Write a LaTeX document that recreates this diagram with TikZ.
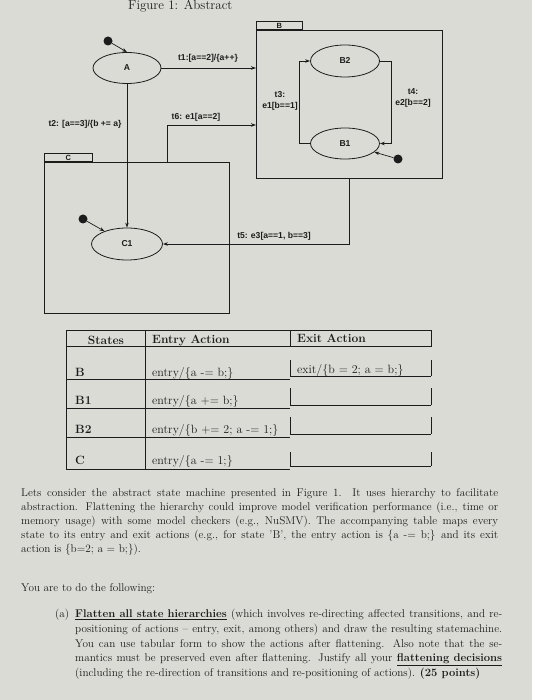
\documentclass[tikz,border=0pt]{standalone}
\usepackage{fontspec}
\newfontfamily\diagfont{Liberation Sans}
\usetikzlibrary{shapes.geometric,arrows.meta}
\definecolor{bg}{RGB}{219,219,214}
\definecolor{ink}{RGB}{28,28,28}
\tikzset{
  state/.style={ellipse,draw=ink,line width=0.8pt,inner sep=0pt,font=\diagfont\bfseries\fontsize{8.6}{10}\selectfont},
  initdot/.style={circle,fill=ink,minimum size=9pt,inner sep=0pt},
  superbox/.style={draw=ink,line width=0.9pt,anchor=north west,inner sep=0pt},
  tabbox/.style={draw=ink,line width=0.9pt,anchor=south west,inner sep=0pt,minimum height=8pt,font=\diagfont\bfseries\fontsize{7.5}{7.5}\selectfont},
  conn/.style={draw=ink,line width=0.7pt,-{Stealth[length=5pt,width=3.5pt]}},
  tlabel/.style={font=\diagfont\bfseries\fontsize{8.6}{11}\selectfont,inner sep=0pt,align=center},
  tline/.style={draw=ink,line width=0.8pt},
  tabtext/.style={anchor=base west,inner sep=0pt,font=\fontsize{12}{14}\selectfont},
  bodytext/.style={anchor=north west,inner sep=0pt,align=justify,font=\fontsize{11.2}{14}\selectfont}
}
\begin{document}
\begin{tikzpicture}[x=1pt,y=-1pt,every node/.append style={text=ink}]
\fill[bg] (0,0) rectangle (532,700);
\useasboundingbox (0,0) rectangle (532,700);
\clip (0,0) rectangle (532,700);

% caption (partly cut at top in the reference)
\node[anchor=base west,inner sep=0pt,font=\fontsize{13}{13}\selectfont] (cap) at (128,10) {Figure 1: Abstract};

% superstates
\node[superbox,minimum width=186pt,minimum height=148pt] (Bbox) at (256,30) {};
\node[tabbox,minimum width=46pt] (Btab) at (Bbox.north west) {B};
\node[superbox,minimum width=185pt,minimum height=151pt] (Cbox) at (44,162) {};
\node[tabbox,minimum width=48pt] (Ctab) at (Cbox.north west) {C};

% states
\node[state,minimum width=68pt,minimum height=31pt] (A) at (127,68) {A};
\node[state,minimum width=69pt,minimum height=32pt] (B2) at (345,61) {B2};
\node[state,minimum width=69pt,minimum height=31pt] (B1) at (345,143.5) {B1};
\node[state,minimum width=71pt,minimum height=32pt] (C1) at (127,244) {C1};

% initial pseudo-states
\node[initdot] (iA) at (108,41) {};
\node[initdot] (iB1) at (398,159) {};
\node[initdot] (iC1) at (83,219) {};
\draw[conn] (iA) -- (A.north);
\draw[conn] (iB1) -- (B1);
\draw[conn] (iC1) -- (C1);

% transitions
\draw[conn] (A.east) -- (A.east -| Bbox.west);
\node[tlabel] (t1l) at (208,58) {t1:[a==2]/\{a++\}};

\draw[conn] (A.south) -- (C1.north);
\node[tlabel] (t2l) at (85,124) {t2: [a==3]/\{b += a\}};

\draw[conn] (B1.west) -- ++(-11,0) |- (B2.west);
\node[tlabel] (t3l) at (280,101) {t3:\\e1[b==1]};

\draw[conn] (B2.east) -- ++(11,0) |- (B1.east);
\node[tlabel] (t4l) at (413,98) {t4:\\e2[b==2]};

\coordinate (t5s) at (349,178);
\draw[conn] (t5s) |- (C1.east);
\node[tlabel] (t5l) at (274,236) {t5: e3[a==1, b==3]};

\coordinate (t6s) at (167,162);
\coordinate (t6e) at (256,125);
\draw[conn] (t6s) |- (t6e);
\node[tlabel] (t6l) at (196,117) {t6: e1[a==2]};

% table
\draw[tline] (66,330) rectangle (431,346);
\draw[tline] (145,330) -- (145,346);
\draw[tline] (290,330) -- (290,346);
\draw[tline] (66,346) -- (66,469);
\draw[tline] (145,346) -- (145,469);
\foreach \yy in {379,408,437,469} {\draw[tline] (66,\yy) -- (290,\yy);}
\foreach \yy/\yt in {376/360,405/388,434/417,466/452} {
  \draw[tline] (290,\yy) -- (431,\yy);
  \draw[tline] (290,\yt) -- (290,\yy);
  \draw[tline] (431,\yt) -- (431,\yy);
}
\node[tabtext,anchor=base] (hS) at (106,344) {\textbf{States}};
\node[tabtext] (hEn) at (152,343) {\textbf{Entry Action}};
\node[tabtext] (hEx) at (297,342) {\textbf{Exit Action}};
\node[tabtext] (rB) at (75,376) {\textbf{B}};
\node[tabtext] (rB1) at (75,404) {\textbf{B1}};
\node[tabtext] (rB2) at (75,433) {\textbf{B2}};
\node[tabtext] (rC) at (75,464) {\textbf{C}};
\node[tabtext] (eB) at (152,376) {entry/\{a -= b;\}};
\node[tabtext] (eB1) at (152,404) {entry/\{a += b;\}};
\node[tabtext] (eB2) at (152,433) {entry/\{b += 2; a -= 1;\}};
\node[tabtext] (eC) at (152,464) {entry/\{a -= 1;\}};
\node[tabtext] (xB) at (297,373) {exit/\{b $=$ 2; a $=$ b;\}};

% body text
\node[bodytext,text width=477pt] (para) at (21,488) {\hyphenpenalty=10000\tolerance=10000
Lets consider the abstract state machine presented in Figure 1. It uses hierarchy to facilitate\linebreak
abstraction. Flattening the hierarchy could improve model verification performance (i.e., time or\linebreak
memory usage) with some model checkers (e.g., NuSMV). The accompanying table maps every\linebreak
state to its entry and exit actions (e.g., for state 'B', the entry action is \{a -= b;\} and its exit\linebreak
action is \{b=2; a = b;\}).};

\node[anchor=base west,inner sep=0pt,font=\fontsize{11.2}{14}\selectfont] (todo) at (21,591) {You are to do the following:};
\node[anchor=base west,inner sep=0pt,font=\fontsize{11.2}{14}\selectfont] (itema) at (55,617) {(a)};
\node[bodytext,text width=427pt,font=\fontsize{11.2}{14.7}\selectfont] (item) at (75,609) {\hyphenpenalty=10000\tolerance=10000
\underline{\textbf{Flatten all state hierarchies}} (which involves re-directing affected transitions, and re-\linebreak
positioning of actions -- entry, exit, among others) and draw the resulting statemachine.\linebreak
You can use tabular form to show the actions after flattening. Also note that the se-\linebreak
mantics must be preserved even after flattening. Justify all your \underline{\textbf{flattening decisions}}\linebreak
(including the re-direction of transitions and re-positioning of actions). \textbf{(25 points)}};
\end{tikzpicture}
\end{document}
